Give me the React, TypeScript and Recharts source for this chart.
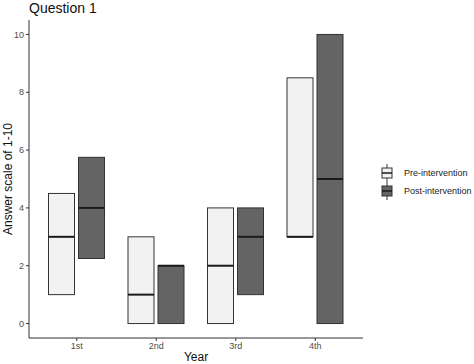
import React from "react";
import { ComposedChart, Bar, XAxis, YAxis } from "recharts";

const years = ["1st", "2nd", "3rd", "4th"];
const preLow = [1, 0, 0, 3];
const preHigh = [4.5, 3, 4, 8.5];
const preMedian = [3, 1, 2, 3];
const postLow = [2.25, 0, 1, 0];
const postHigh = [5.75, 2, 4, 10];
const postMedian = [4, 2, 3, 5];
const yTicks = [0, 2, 4, 6, 8, 10];

const PRE_FILL = "#f2f2f2";
const POST_FILL = "#646464";
const EDGE = "#333333";
const FONT = "'Liberation Sans', Arial, sans-serif";

const data = years.map((year, i) => ({
  year,
  pre: [preLow[i], preHigh[i]],
  preMed: preMedian[i],
  post: [postLow[i], postHigh[i]],
  postMed: postMedian[i],
}));

function makeBox(which: "pre" | "post", fill: string) {
  return (props: any) => {
    const { x, y, width, height, payload } = props;
    const [lo, hi] = payload[which];
    const med = payload[which + "Med"];
    const my = y + (height * (hi - med)) / (hi - lo);
    return (
      <g>
        <rect x={x + 0.5} y={y} width={width - 1} height={height} fill={fill} stroke={EDGE} strokeWidth={1} />
        <line x1={x + 0.5} x2={x + width - 0.5} y1={my} y2={my} stroke="#1a1a1a" strokeWidth={2} />
      </g>
    );
  };
}

function LegendKey({ fill }: { fill: string }) {
  return (
    <svg width={12} height={18} style={{ display: "block" }}>
      <line x1={6} x2={6} y1={0} y2={18} stroke={EDGE} strokeWidth={1} />
      <rect x={1} y={4} width={10} height={10} fill={fill} stroke={EDGE} strokeWidth={1} />
      <line x1={1} x2={11} y1={9} y2={9} stroke="#1a1a1a" strokeWidth={1.5} />
    </svg>
  );
}

export default function App() {
  return (
    <div style={{ position: "absolute", left: 0, top: 0, width: 474, height: 364, background: "#fff", overflow: "hidden", fontFamily: FONT }}>
      <div style={{ position: "absolute", left: 29, top: 0, fontSize: 14, color: "#111", lineHeight: "16px" }}>Question 1</div>
      <ComposedChart width={474} height={364} data={data} margin={{ top: 20, right: 111, bottom: 0, left: 0 }} barGap={3}>
        <XAxis
          dataKey="year"
          height={26}
          padding={{ left: 8, right: 8 }}
          tickSize={3}
          tickLine={{ stroke: EDGE }}
          axisLine={{ stroke: EDGE }}
          tick={{ fontSize: 9, fill: "#4d4d4d", fontFamily: FONT }}
          label={{ value: "Year", position: "insideBottom", offset: 3, style: { fontSize: 12, fill: "#111", fontFamily: FONT } }}
        />
        <YAxis
          width={29}
          domain={[-0.5, 10.5]}
          ticks={yTicks}
          allowDataOverflow
          tickSize={3}
          tickLine={{ stroke: EDGE }}
          axisLine={{ stroke: EDGE }}
          tick={{ fontSize: 9, fill: "#4d4d4d", fontFamily: FONT }}
          label={{ value: "Answer scale of 1-10", angle: -90, position: "insideLeft", offset: 8, style: { textAnchor: "middle", fontSize: 12, fill: "#111", fontFamily: FONT } }}
        />
        <Bar dataKey="pre" barSize={27} fill={PRE_FILL} shape={makeBox("pre", PRE_FILL)} isAnimationActive={false} />
        <Bar dataKey="post" barSize={27} fill={POST_FILL} shape={makeBox("post", POST_FILL)} isAnimationActive={false} />
      </ComposedChart>
      <div style={{ position: "absolute", left: 381, top: 164, fontSize: 9, color: "#222", whiteSpace: "nowrap" }}>
        <div style={{ display: "flex", alignItems: "center", height: 18 }}>
          <LegendKey fill={PRE_FILL} />
          <span style={{ marginLeft: 11 }}>Pre-intervention</span>
        </div>
        <div style={{ display: "flex", alignItems: "center", height: 18 }}>
          <LegendKey fill={POST_FILL} />
          <span style={{ marginLeft: 11 }}>Post-intervention</span>
        </div>
      </div>
    </div>
  );
}
